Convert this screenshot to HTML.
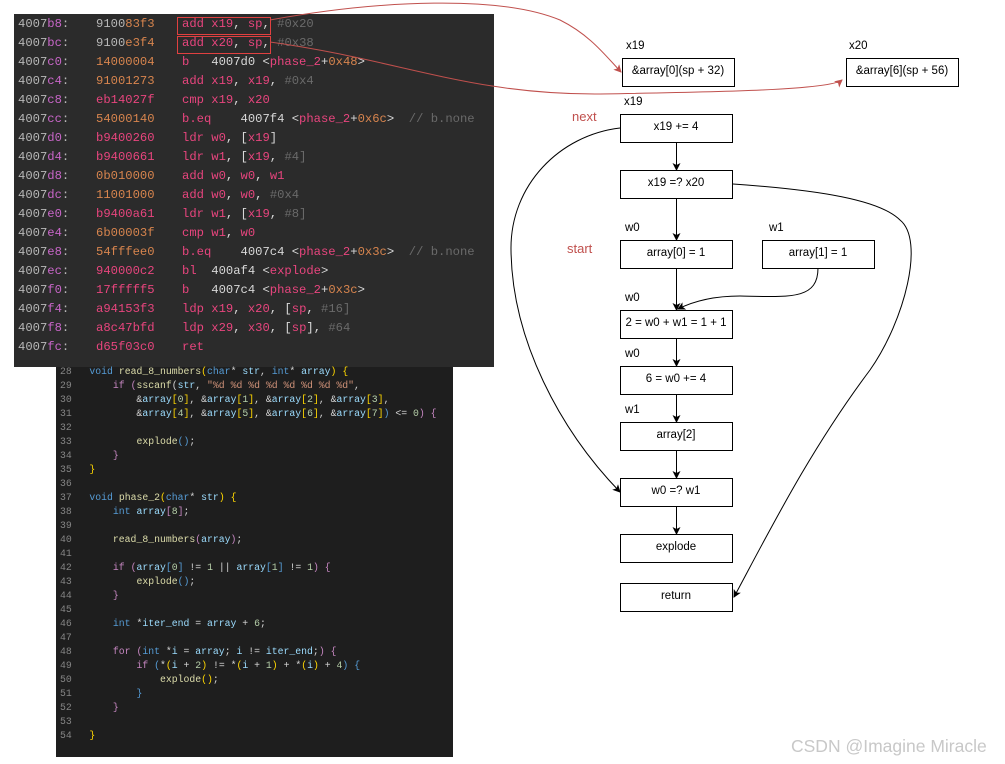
<!DOCTYPE html>
<html><head><meta charset="utf-8"><style>
body{margin:0;width:1005px;height:764px;background:#fff;position:relative;overflow:hidden;font-family:"Liberation Sans",sans-serif}
#asm{position:absolute;left:14px;top:14px;width:480px;height:353px;background:#2b2b2b}
.al{position:absolute;left:4px;width:470px;height:19px;line-height:19px;font:12.2px "Liberation Mono",monospace;white-space:pre;color:#d8d8d8}
.al>span{position:absolute;top:0}
.c1{left:0}.c2{left:78px}.c3{left:164px}
.a{color:#b8b8b8}.m{color:#c866c8}.o{color:#d8854e}.p{color:#e8457e}.g{color:#6a6a6a}
#code{position:absolute;left:56px;top:367px;width:397px;height:390px;background:#1e1e1e}
.cl{position:absolute;left:4px;height:14px;line-height:14px;font:9.8px "Liberation Mono",monospace;white-space:pre;color:#d4d4d4}
.n{color:#858585}.k{color:#569cd6}.f{color:#dcdcaa}.v{color:#9cdcfe}.s{color:#ce9178}.y{color:#ffd700}.c{color:#c586c0}.nm{color:#b5cea8}
.t{position:absolute;font-size:11.5px;color:#000;white-space:nowrap}
.r{position:absolute;font-size:13px;color:#c0504d}
</style></head><body>
<div id="asm">
<div class="al" style="top:3px"><span class="c1"><span class="a">4007</span><span class="m">b8</span><span class="a">:</span></span><span class="c2"><span class="a">9100</span><span class="o">83f3</span></span><span class="c3"><span class="p">add x19</span>, <span class="p">sp</span>, <span class="g">#0x20</span></span></div>
<div class="al" style="top:22px"><span class="c1"><span class="a">4007</span><span class="m">bc</span><span class="a">:</span></span><span class="c2"><span class="a">9100</span><span class="o">e3f4</span></span><span class="c3"><span class="p">add x20</span>, <span class="p">sp</span>, <span class="g">#0x38</span></span></div>
<div class="al" style="top:41px"><span class="c1"><span class="a">4007</span><span class="m">c0</span><span class="a">:</span></span><span class="c2"><span class="o">14000004</span></span><span class="c3"><span class="p">b</span>   4007d0 &lt;<span class="p">phase_2</span>+<span class="o">0x48</span>&gt;</span></div>
<div class="al" style="top:60px"><span class="c1"><span class="a">4007</span><span class="m">c4</span><span class="a">:</span></span><span class="c2"><span class="o">91001273</span></span><span class="c3"><span class="p">add x19</span>, <span class="p">x19</span>, <span class="g">#0x4</span></span></div>
<div class="al" style="top:79px"><span class="c1"><span class="a">4007</span><span class="m">c8</span><span class="a">:</span></span><span class="c2"><span class="p">eb14027f</span></span><span class="c3"><span class="p">cmp x19</span>, <span class="p">x20</span></span></div>
<div class="al" style="top:98px"><span class="c1"><span class="a">4007</span><span class="m">cc</span><span class="a">:</span></span><span class="c2"><span class="o">54000140</span></span><span class="c3"><span class="p">b.eq</span>    4007f4 &lt;<span class="p">phase_2</span>+<span class="o">0x6c</span>&gt;  <span class="g">// b.none</span></span></div>
<div class="al" style="top:117px"><span class="c1"><span class="a">4007</span><span class="m">d0</span><span class="a">:</span></span><span class="c2"><span class="p">b9400260</span></span><span class="c3"><span class="p">ldr w0</span>, [<span class="p">x19</span>]</span></div>
<div class="al" style="top:136px"><span class="c1"><span class="a">4007</span><span class="m">d4</span><span class="a">:</span></span><span class="c2"><span class="p">b9400661</span></span><span class="c3"><span class="p">ldr w1</span>, [<span class="p">x19</span>, <span class="g">#4]</span></span></div>
<div class="al" style="top:155px"><span class="c1"><span class="a">4007</span><span class="m">d8</span><span class="a">:</span></span><span class="c2"><span class="o">0b010000</span></span><span class="c3"><span class="p">add w0</span>, <span class="p">w0</span>, <span class="p">w1</span></span></div>
<div class="al" style="top:174px"><span class="c1"><span class="a">4007</span><span class="m">dc</span><span class="a">:</span></span><span class="c2"><span class="o">11001000</span></span><span class="c3"><span class="p">add w0</span>, <span class="p">w0</span>, <span class="g">#0x4</span></span></div>
<div class="al" style="top:193px"><span class="c1"><span class="a">4007</span><span class="m">e0</span><span class="a">:</span></span><span class="c2"><span class="p">b9400a61</span></span><span class="c3"><span class="p">ldr w1</span>, [<span class="p">x19</span>, <span class="g">#8]</span></span></div>
<div class="al" style="top:212px"><span class="c1"><span class="a">4007</span><span class="m">e4</span><span class="a">:</span></span><span class="c2"><span class="o">6b00003f</span></span><span class="c3"><span class="p">cmp w1</span>, <span class="p">w0</span></span></div>
<div class="al" style="top:231px"><span class="c1"><span class="a">4007</span><span class="m">e8</span><span class="a">:</span></span><span class="c2"><span class="o">54fffee0</span></span><span class="c3"><span class="p">b.eq</span>    4007c4 &lt;<span class="p">phase_2</span>+<span class="o">0x3c</span>&gt;  <span class="g">// b.none</span></span></div>
<div class="al" style="top:250px"><span class="c1"><span class="a">4007</span><span class="m">ec</span><span class="a">:</span></span><span class="c2"><span class="p">940000c2</span></span><span class="c3"><span class="p">bl</span>  400af4 &lt;<span class="p">explode</span>&gt;</span></div>
<div class="al" style="top:269px"><span class="c1"><span class="a">4007</span><span class="m">f0</span><span class="a">:</span></span><span class="c2"><span class="p">17fffff5</span></span><span class="c3"><span class="p">b</span>   4007c4 &lt;<span class="p">phase_2</span>+<span class="o">0x3c</span>&gt;</span></div>
<div class="al" style="top:288px"><span class="c1"><span class="a">4007</span><span class="m">f4</span><span class="a">:</span></span><span class="c2"><span class="p">a94153f3</span></span><span class="c3"><span class="p">ldp x19</span>, <span class="p">x20</span>, [<span class="p">sp</span>, <span class="g">#16]</span></span></div>
<div class="al" style="top:307px"><span class="c1"><span class="a">4007</span><span class="m">f8</span><span class="a">:</span></span><span class="c2"><span class="p">a8c47bfd</span></span><span class="c3"><span class="p">ldp x29</span>, <span class="p">x30</span>, [<span class="p">sp</span>], <span class="g">#64</span></span></div>
<div class="al" style="top:326px"><span class="c1"><span class="a">4007</span><span class="m">fc</span><span class="a">:</span></span><span class="c2"><span class="p">d65f03c0</span></span><span class="c3"><span class="p">ret</span></span></div>
<div style="position:absolute;left:163px;top:3px;width:92px;height:16px;border:1px solid #e04040"></div>
<div style="position:absolute;left:163px;top:22px;width:92px;height:16px;border:1px solid #e04040"></div>
</div>
<div id="code">
<div class="cl" style="top:-1px"><span class="n">28</span>   <span class="k">void</span> <span class="f">read_8_numbers</span><span class="y">(</span><span class="k">char</span>* <span class="v">str</span>, <span class="k">int</span>* <span class="v">array</span><span class="y">)</span> <span class="y">{</span></div>
<div class="cl" style="top:13px"><span class="n">29</span>       <span class="c">if</span> <span class="c">(</span><span class="f">sscanf</span>(<span class="v">str</span>, <span class="s">"%d %d %d %d %d %d %d %d"</span>,</div>
<div class="cl" style="top:27px"><span class="n">30</span>           &amp;<span class="v">array</span><span class="y">[</span><span class="nm">0</span><span class="y">]</span>, &amp;<span class="v">array</span><span class="y">[</span><span class="nm">1</span><span class="y">]</span>, &amp;<span class="v">array</span><span class="y">[</span><span class="nm">2</span><span class="y">]</span>, &amp;<span class="v">array</span><span class="y">[</span><span class="nm">3</span><span class="y">]</span>,</div>
<div class="cl" style="top:41px"><span class="n">31</span>           &amp;<span class="v">array</span><span class="y">[</span><span class="nm">4</span><span class="y">]</span>, &amp;<span class="v">array</span><span class="y">[</span><span class="nm">5</span><span class="y">]</span>, &amp;<span class="v">array</span><span class="y">[</span><span class="nm">6</span><span class="y">]</span>, &amp;<span class="v">array</span><span class="y">[</span><span class="nm">7</span><span class="y">]</span><span class="k">)</span> &lt;= <span class="nm">0</span><span class="c">)</span> <span class="c">{</span></div>
<div class="cl" style="top:55px"><span class="n">32</span></div>
<div class="cl" style="top:69px"><span class="n">33</span>           <span class="f">explode</span><span class="k">()</span>;</div>
<div class="cl" style="top:83px"><span class="n">34</span>       <span class="c">}</span></div>
<div class="cl" style="top:97px"><span class="n">35</span>   <span class="y">}</span></div>
<div class="cl" style="top:111px"><span class="n">36</span></div>
<div class="cl" style="top:125px"><span class="n">37</span>   <span class="k">void</span> <span class="f">phase_2</span><span class="y">(</span><span class="k">char</span>* <span class="v">str</span><span class="y">)</span> <span class="y">{</span></div>
<div class="cl" style="top:139px"><span class="n">38</span>       <span class="k">int</span> <span class="v">array</span><span class="c">[</span><span class="nm">8</span><span class="c">]</span>;</div>
<div class="cl" style="top:153px"><span class="n">39</span></div>
<div class="cl" style="top:167px"><span class="n">40</span>       <span class="f">read_8_numbers</span><span class="c">(</span><span class="v">array</span><span class="c">)</span>;</div>
<div class="cl" style="top:181px"><span class="n">41</span></div>
<div class="cl" style="top:195px"><span class="n">42</span>       <span class="c">if</span> <span class="c">(</span><span class="v">array</span><span class="k">[</span><span class="nm">0</span><span class="k">]</span> != <span class="nm">1</span> || <span class="v">array</span><span class="k">[</span><span class="nm">1</span><span class="k">]</span> != <span class="nm">1</span><span class="c">)</span> <span class="c">{</span></div>
<div class="cl" style="top:209px"><span class="n">43</span>           <span class="f">explode</span><span class="k">()</span>;</div>
<div class="cl" style="top:223px"><span class="n">44</span>       <span class="c">}</span></div>
<div class="cl" style="top:237px"><span class="n">45</span></div>
<div class="cl" style="top:251px"><span class="n">46</span>       <span class="k">int</span> *<span class="v">iter_end</span> = <span class="v">array</span> + <span class="nm">6</span>;</div>
<div class="cl" style="top:265px"><span class="n">47</span></div>
<div class="cl" style="top:279px"><span class="n">48</span>       <span class="c">for</span> <span class="c">(</span><span class="k">int</span> *<span class="v">i</span> = <span class="v">array</span>; <span class="v">i</span> != <span class="v">iter_end</span>;<span class="c">)</span> <span class="c">{</span></div>
<div class="cl" style="top:293px"><span class="n">49</span>           <span class="c">if</span> <span class="k">(</span>*<span class="y">(</span><span class="v">i</span> + <span class="nm">2</span><span class="y">)</span> != *<span class="y">(</span><span class="v">i</span> + <span class="nm">1</span><span class="y">)</span> + *<span class="y">(</span><span class="v">i</span><span class="y">)</span> + <span class="nm">4</span><span class="k">)</span> <span class="k">{</span></div>
<div class="cl" style="top:307px"><span class="n">50</span>               <span class="f">explode</span><span class="y">()</span>;</div>
<div class="cl" style="top:321px"><span class="n">51</span>           <span class="k">}</span></div>
<div class="cl" style="top:335px"><span class="n">52</span>       <span class="c">}</span></div>
<div class="cl" style="top:349px"><span class="n">53</span></div>
<div class="cl" style="top:363px"><span class="n">54</span>   <span class="y">}</span></div>
</div>

<svg width="1005" height="764" style="position:absolute;left:0;top:0" xmlns="http://www.w3.org/2000/svg">
<defs>
<marker id="ab" markerWidth="8" markerHeight="8" refX="7" refY="4" orient="auto" markerUnits="userSpaceOnUse"><path d="M0,0 L8,4 L0,8 L2,4z" fill="#000"/></marker>
<marker id="ar" markerWidth="8" markerHeight="8" refX="7" refY="4" orient="auto" markerUnits="userSpaceOnUse"><path d="M0,0 L8,4 L0,8 L2,4z" fill="#c0504d"/></marker>
</defs>
<g fill="#fff" stroke="#000" stroke-width="1">
<rect x="622.5" y="58.5" width="112" height="28"/>
<rect x="846.5" y="58.5" width="112" height="28"/>
<rect x="620.5" y="114.5" width="112" height="28"/>
<rect x="620.5" y="170.5" width="112" height="28"/>
<rect x="620.5" y="240.5" width="112" height="28"/>
<rect x="762.5" y="240.5" width="112" height="28"/>
<rect x="620.5" y="310.5" width="112" height="28"/>
<rect x="620.5" y="366.5" width="112" height="28"/>
<rect x="620.5" y="422.5" width="112" height="28"/>
<rect x="620.5" y="478.5" width="112" height="28"/>
<rect x="620.5" y="534.5" width="112" height="28"/>
<rect x="620.5" y="583.5" width="112" height="28"/>
</g>
<g fill="none" stroke="#000" stroke-width="1">
<path d="M676.5 142 V170" marker-end="url(#ab)"/>
<path d="M676.5 198 V240" marker-end="url(#ab)"/>
<path d="M676.5 268 V310" marker-end="url(#ab)"/>
<path d="M818 268 C818 300 790 297 740 296 C710 296 690 303 678 309" marker-end="url(#ab)"/>
<path d="M676.5 338 V366" marker-end="url(#ab)"/>
<path d="M676.5 394 V422" marker-end="url(#ab)"/>
<path d="M676.5 450 V478" marker-end="url(#ab)"/>
<path d="M676.5 506 V534" marker-end="url(#ab)"/>
<path d="M620 128 C560 135 510 185 511 250 C512 340 560 430 620 492" marker-end="url(#ab)"/>
<path d="M733 184 C820 190 880 200 900 220 C925 240 905 320 870 370 C810 450 770 530 734 597" marker-end="url(#ab)"/>
</g>
<g fill="none" stroke="#c0504d" stroke-width="1">
<path d="M270 20 C380 0 500 -5 560 20 C590 35 605 55 621 72" marker-end="url(#ar)"/>
<path d="M270 42 C400 60 470 95 600 94 C720 92 830 90 842 80" marker-end="url(#ar)"/>
</g>
</svg>
<div class="t" style="left:626px;top:40px">x19</div>
<div class="t" style="left:849px;top:40px">x20</div>
<div class="t" style="left:624px;top:96px">x19</div>
<div class="t" style="left:625px;top:222px">w0</div>
<div class="t" style="left:769px;top:222px">w1</div>
<div class="t" style="left:625px;top:292px">w0</div>
<div class="t" style="left:625px;top:348px">w0</div>
<div class="t" style="left:625px;top:404px">w1</div>
<div class="t" style="left:622px;top:65px;width:112px;text-align:center">&amp;array[0](sp + 32)</div>
<div class="t" style="left:846px;top:65px;width:112px;text-align:center">&amp;array[6](sp + 56)</div>
<div class="t" style="left:620px;top:121px;width:112px;text-align:center">x19 += 4</div>
<div class="t" style="left:620px;top:177px;width:112px;text-align:center">x19 =? x20</div>
<div class="t" style="left:620px;top:247px;width:112px;text-align:center">array[0] = 1</div>
<div class="t" style="left:762px;top:247px;width:112px;text-align:center">array[1] = 1</div>
<div class="t" style="left:620px;top:317px;width:112px;text-align:center">2 = w0 + w1 = 1 + 1</div>
<div class="t" style="left:620px;top:373px;width:112px;text-align:center">6 = w0 += 4</div>
<div class="t" style="left:620px;top:429px;width:112px;text-align:center">array[2]</div>
<div class="t" style="left:620px;top:485px;width:112px;text-align:center">w0 =? w1</div>
<div class="t" style="left:620px;top:541px;width:112px;text-align:center">explode</div>
<div class="t" style="left:620px;top:590px;width:112px;text-align:center">return</div>
<div class="r" style="left:572px;top:109px">next</div>
<div class="r" style="left:567px;top:241px">start</div>
<div style="position:absolute;left:791px;top:736px;font-size:17.5px;color:#c8c8c8;white-space:nowrap">CSDN @Imagine Miracle</div>
</body></html>
